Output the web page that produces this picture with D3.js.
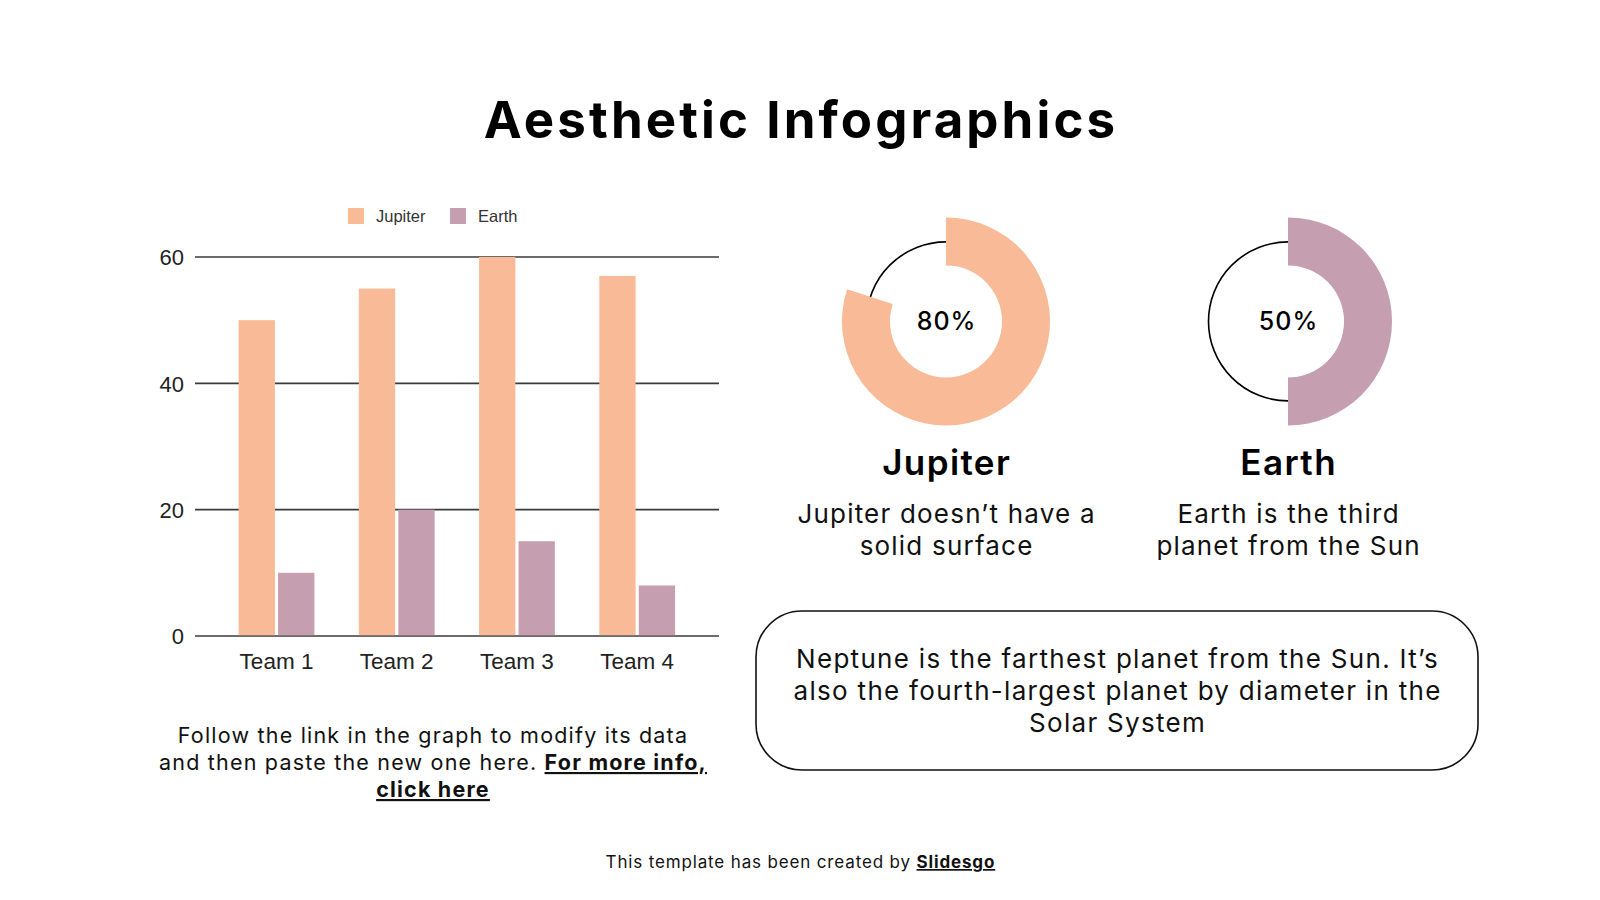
<!DOCTYPE html>
<html>
<head>
<meta charset="utf-8">
<script src="https://cdn.jsdelivr.net/npm/d3@7"></script>
<style>
  html, body { margin: 0; padding: 0; background: #fff; }
  svg { display: block; }
</style>
</head>
<body>
<svg id="chart" width="1600" height="900"></svg>
<script>
// ---- data ----
const teams = ["Team 1", "Team 2", "Team 3", "Team 4"];
const seriesNames = ["Jupiter", "Earth"];
const jupiterValues = [50, 55, 60, 57];
const earthValues = [10, 20, 15, 8];
const yTicks = [0, 20, 40, 60];
const donutNames = ["Jupiter", "Earth"];
const donutPercents = [80, 50];
const donutTexts = [["Jupiter doesn\u2019t have a", "solid surface"], ["Earth is the third", "planet from the Sun"]];
const boxLines = ["Neptune is the farthest planet from the Sun. It\u2019s", "also the fourth-largest planet by diameter in the", "Solar System"];
const colors = { Jupiter: "#F9BB97", Earth: "#C59EB0" };

const svg = d3.select("#chart");
const FONT = "Inter, 'Open Sans', sans-serif";
const AFONT = "'Liberation Sans', Arial, sans-serif";

// ---- title ----
svg.append("text").attr("x", 801).attr("y", 138)
  .attr("text-anchor", "middle")
  .style("font-family", FONT).style("font-weight", 700).style("font-size", "51px")
  .style("letter-spacing", "3.1px")
  .attr("fill", "#000").text("Aesthetic Infographics");

// ---- bar chart ----
const y = d3.scaleLinear().domain([0, 60]).range([636, 257]);
const x0 = d3.scaleBand().domain(teams).range([216.4, 697.3]).paddingInner(0.37).paddingOuter(0.185);
const x1 = d3.scaleBand().domain(seriesNames).range([0, x0.bandwidth()]).paddingInner(0.08);

const grid = svg.append("g");
grid.selectAll("line").data(yTicks).join("line")
  .attr("x1", 195).attr("x2", 719)
  .attr("y1", d => y(d)).attr("y2", d => y(d))
  .attr("stroke", "#3a3a3a").attr("stroke-width", 1.6);

const yAxis = d3.axisLeft(y).tickValues(yTicks).tickSize(0).tickPadding(0);
const yg = svg.append("g").attr("transform", "translate(184,0)").call(yAxis);
yg.select(".domain").remove();
yg.selectAll("text").style("font-family", AFONT).style("font-size", "22px").attr("fill", "#222").attr("dy", "0.35em");

const rows = teams.map((t, i) => ({ team: t, Jupiter: jupiterValues[i], Earth: earthValues[i] }));
const groups = svg.append("g").selectAll("g").data(rows).join("g")
  .attr("transform", d => `translate(${x0(d.team)},0)`);
groups.selectAll("rect").data(d => seriesNames.map(s => ({ s, v: d[s] }))).join("rect")
  .attr("x", d => x1(d.s)).attr("width", x1.bandwidth())
  .attr("y", d => y(d.v)).attr("height", d => y(0) - y(d.v) - 0.8)
  .attr("fill", d => colors[d.s]);

const xAxis = d3.axisBottom(x0).tickSize(0).tickPadding(0);
const xg = svg.append("g").attr("transform", "translate(0,669)").call(xAxis);
xg.select(".domain").remove();
xg.selectAll("text").style("font-family", AFONT).style("font-size", "22.5px").attr("fill", "#222").attr("dy", 0);

// legend
const legend = svg.append("g");
const legX = [348, 450];
seriesNames.forEach((s, i) => {
  legend.append("rect").attr("x", legX[i]).attr("y", 208).attr("width", 16).attr("height", 16).attr("fill", colors[s]);
  legend.append("text").attr("x", legX[i] + 28).attr("y", 222)
    .style("font-family", AFONT).style("font-size", "16.5px").attr("fill", "#333").text(s);
});

// caption under chart
const cap = svg.append("text").attr("text-anchor", "middle")
  .style("font-family", FONT).style("font-size", "21.5px").style("letter-spacing", "1.2px").attr("fill", "#111");
cap.append("tspan").attr("x", 433).attr("y", 743).text("Follow the link in the graph to modify its data");
const l2 = cap.append("tspan").attr("x", 433).attr("y", 770);
l2.append("tspan").text("and then paste the new one here. ");
l2.append("tspan").style("font-weight", 700).style("text-decoration", "underline").text("For more info,");
cap.append("tspan").attr("x", 433).attr("y", 797).style("font-weight", 700).style("text-decoration", "underline").text("click here");

// ---- donuts ----
const donutCx = [946, 1288];
const cy = 321.4;
const pie = d3.pie().sort(null).startAngle(0).endAngle(2 * Math.PI);
const arc = d3.arc().innerRadius(56).outerRadius(104);
donutPercents.forEach((p, i) => {
  const g = svg.append("g").attr("transform", `translate(${donutCx[i]},${cy})`);
  g.append("circle").attr("r", 79.5).attr("fill", "none").attr("stroke", "#000").attr("stroke-width", 1.6);
  const arcs = pie([p, 100 - p]);
  g.append("path").attr("d", arc(arcs[0])).attr("fill", colors[donutNames[i]]);
  g.append("circle").attr("r", 55.5).attr("fill", "#fff");
  g.append("text").attr("text-anchor", "middle").attr("y", 9).attr("x", 0.5)
    .style("font-family", FONT).style("font-weight", 500).style("font-size", "25px").style("letter-spacing", "1px").attr("fill", "#000")
    .text(p + "%");
  svg.append("text").attr("x", donutCx[i] + 0.7).attr("y", 475).attr("text-anchor", "middle")
    .style("font-family", FONT).style("font-weight", 600).style("font-size", "35px").style("letter-spacing", "1.4px").attr("fill", "#000")
    .text(donutNames[i]);
  const t = svg.append("text").attr("text-anchor", "middle")
    .style("font-family", FONT).style("font-size", "26px").style("letter-spacing", "1.2px").attr("fill", "#111");
  donutTexts[i].forEach((line, j) => {
    t.append("tspan").attr("x", donutCx[i] + 0.6).attr("y", 523 + j * 32).text(line);
  });
});

// ---- rounded box ----
svg.append("rect").attr("x", 756).attr("y", 611).attr("width", 722).attr("height", 159)
  .attr("rx", 46).attr("ry", 46).attr("fill", "none").attr("stroke", "#111").attr("stroke-width", 1.6);
const bt = svg.append("text").attr("text-anchor", "middle")
  .style("font-family", FONT).style("font-size", "26px").style("letter-spacing", "1.3px").attr("fill", "#111");
boxLines.forEach((line, j) => {
  bt.append("tspan").attr("x", 1117.6).attr("y", 668 + j * 32).text(line);
});

// ---- footer ----
const ft = svg.append("text").attr("x", 800.4).attr("y", 868).attr("text-anchor", "middle")
  .style("font-family", FONT).style("font-size", "17px").style("letter-spacing", "0.85px").attr("fill", "#111");
ft.append("tspan").text("This template has been created by ");
ft.append("tspan").style("font-weight", 700).style("text-decoration", "underline").text("Slidesgo");
</script>
</body>
</html>
